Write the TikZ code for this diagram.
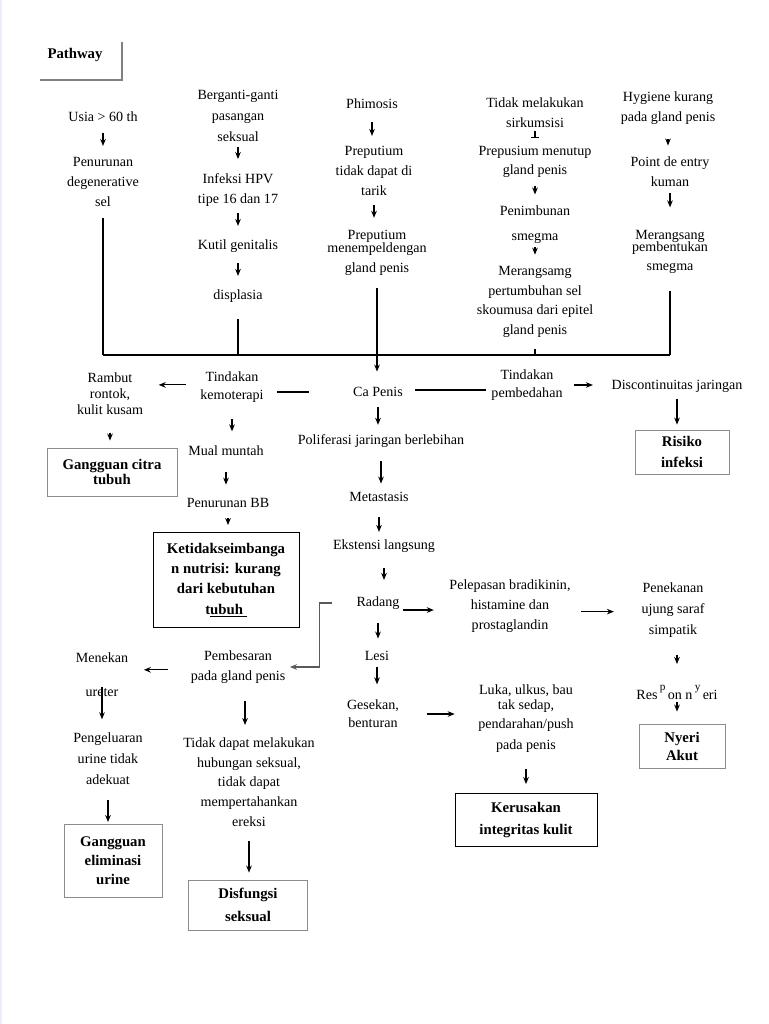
\documentclass[tikz,border=0pt]{standalone}
\usepackage{fontspec}
\setmainfont{Liberation Serif}
\usetikzlibrary{arrows.meta}
\newlength{\unitpx}
\setlength{\unitpx}{0.25mm}
\newcommand{\drawdown}[5][]{
  \draw[arr, #1, shorten <=#4\unitpx, shorten >=#5\unitpx]
    (#2.south) -- (#2.south |- #3.north);
}

\begin{document}
\begin{tikzpicture}[x=\unitpx, y=-\unitpx,
  txt/.style={align=center, inner sep=1pt, font=\fontsize{10}{14}\selectfont},
  box/.style={draw=black!45, line width=0.6pt, align=center, inner sep=1pt,
    font=\bfseries\fontsize{10.5}{14.5}\selectfont},
  arr/.style={line width=0.8pt, -{Stealth[length=5pt, width=4pt]}},
  fat/.style={line width=1.2pt},
  wire/.style={line width=0.8pt}]
  \useasboundingbox (0,0) rectangle (768,1024);
  \fill[blue!7] (0,0) rectangle (2,1024);

  \node[txt, font=\bfseries\fontsize{10.5}{14}\selectfont] (pathway) at (75,55) {Pathway};
  \draw[black!50, line width=1pt] (40,80) -- (122,80) -- (122,42);

  % sebab
  \node[txt] (usia)   at (103,117) {Usia > 60 th};
  \node[txt] (degen)  at (103,182) {Penurunan\\degenerative\\sel};
  \node[txt] (bergan) at (238,116) {Berganti-ganti\\[0.8pt]pasangan\\[0.8pt]seksual};
  \node[txt] (hpv)    at (238,190) {Infeksi HPV\\tipe 16 dan 17};
  \node[txt] (kutil)  at (238,246) {Kutil genitalis};
  \node[txt] (displ)  at (238,296) {displasia};
  \node[txt] (phimo)  at (372,104) {Phimosis};
  \node[txt] (prep1)  at (374,171) {Preputium\\tidak dapat di\\tarik};
  \node[txt] (prep2)  at (377,253) {Preputium\\[-4.8pt]menempeldengan\\gland penis};
  \node[txt] (sirk)   at (535,113) {Tidak melakukan\\sirkumsisi};
  \node[txt] (menut)  at (535,162) {Prepusium menutup\\gland penis};
  \node[txt] (timbun) at (535,225) {Penimbunan\\[3.7pt]smegma};
  \node[txt] (rangs)  at (535,302) {Merangsamg\\pertumbuhan sel\\skoumusa dari epitel\\gland penis};
  \node[txt] (hyg)    at (668,108) {Hygiene kurang\\pada gland penis};
  \node[txt] (entry)  at (670,172) {Point de entry\\kuman};
  \node[txt] (bentuk) at (670,252) {Merangsang\\[-5.5pt]pembentukan\\smegma};
  \coordinate (bus) at (0,355);

  % ca penis dan tindakan
  \node[txt] (capenis) at (378,392) {Ca Penis};
  \node[txt] (kemo)   at (232,387) {Tindakan\\[-1.2pt]kemoterapi};
  \node[txt] (rambut) at (110,394) {Rambut\\[-2.6pt]rontok,\\[-2.6pt]kulit kusam};
  \node[box, minimum width=130\unitpx, minimum height=48\unitpx] (citra) at (112,472) {Gangguan citra\\[-3.5pt]tubuh};
  \node[txt] (mual)   at (226,451) {Mual muntah};
  \node[txt] (bb)     at (228,503) {Penurunan BB};
  \node[box, draw=black, minimum width=146\unitpx, minimum height=95\unitpx] (ketid) at (226,580)
    {Ketidakseimbanga\\n nutrisi: kurang\\dari kebutuhan\\t\underline{ubuh\ }};
  \node[txt] (bedah)  at (527,385) {Tindakan\\[-1.2pt]pembedahan};
  \node[txt] (discon) at (677,386) {Discontinuitas jaringan};
  \node[box, minimum width=94\unitpx, minimum height=44\unitpx] (risiko) at (682,452) {Risiko\\infeksi};

  % jalur tengah
  \node[txt] (polif)  at (381,441) {Poliferasi jaringan berlebihan};
  \node[txt] (meta)   at (379,497) {Metastasis};
  \node[txt] (ekst)   at (384,546) {Ekstensi langsung};
  \node[txt] (radang) at (378,603) {Radang};
  \node[txt] (lesi)   at (377,656) {Lesi};
  \node[txt] (gesek)  at (373,714) {Gesekan,\\[-1.2pt]benturan};
  \node[txt] (pelep)  at (510,606) {Pelepasan bradikinin,\\histamine dan\\prostaglandin};
  \node[txt] (tekan)  at (673,610) {Penekanan\\[0.7pt]ujung saraf\\[0.7pt]simpatik};
  \node[txt] (respon) at (677,692)
    {Res\,\raisebox{6.5pt}{\footnotesize p}\,on n\,\raisebox{6.5pt}{\footnotesize y}\,eri};
  \node[box, minimum width=86\unitpx, minimum height=44\unitpx] (nyeri) at (682,746) {Nyeri\\[-1.7pt]Akut};

  % bawah
  \node[txt] (besar)   at (238,667) {Pembesaran\\pada gland penis};
  \node[txt] (menekan) at (102,675) {Menekan\\[10pt]ureter};
  \node[txt] (keluar)  at (108,759) {Pengeluaran\\[1pt]urine tidak\\[1pt]adekuat};
  \node[box, minimum width=98\unitpx, minimum height=73\unitpx] (elim) at (113,861) {Gangguan\\[-1pt]eliminasi\\[-1pt]urine};
  \node[txt] (tdk)     at (249,782) {Tidak dapat melakukan\\hubungan seksual,\\tidak dapat\\mempertahankan\\ereksi};
  \node[box, minimum width=119\unitpx, minimum height=50\unitpx] (disf) at (248,905) {Disfungsi\\[2pt]seksual};
  \node[txt] (luka)    at (526,719) {Luka, ulkus, bau\\[-4pt]tak sedap,\\pendarahan/push\\[1pt]pada penis};
  \node[box, draw=black, minimum width=142\unitpx, minimum height=53\unitpx] (kerus) at (526,820) {Kerusakan\\[0.5pt]integritas kulit};

  % panah
  \foreach \a/\b/\s/\e in {usia/degen/9/10, bergan/hpv/4/13, hpv/kutil/5/12,
      kutil/displ/9/12, phimo/prep1/11/9, prep1/prep2/8/11, menut/timbun/6/10,
      timbun/rangs/1/10, hyg/entry/13/10, entry/bentuk/5/21}
    {\drawdown{\a}{\b}{\s}{\e}}
  \draw[wire, -{Bar[width=5pt]}, shorten <=2\unitpx, shorten >=6\unitpx]
    (sirk.south) -- (sirk.south |- menut.north);
  \foreach \a/\s in {degen/10, displ/15, rangs/10, bentuk/15}
    {\draw[wire, shorten <=\s\unitpx] (\a.south) -- (\a.south |- bus);}
  \draw[wire] (degen.south |- bus) -- (bentuk.south |- bus);
  \drawdown[fat]{prep2}{capenis}{11}{14}

  \foreach \a/\b/\s/\e in {capenis/polif/9/8, polif/meta/12/7, meta/ekst/14/6,
      ekst/radang/14/15, radang/lesi/12/11, lesi/gesek/5/14}
    {\drawdown[fat]{\a}{\b}{\s}{\e}}

  \foreach \a/\b/\s/\e in {rambut/citra/16/7, kemo/mual/15/13, mual/bb/14/12,
      bb/ketid/9/7, discon/risiko/5/5, respon/nyeri/1/12, keluar/elim/13/2,
      tdk/disf/13/7, luka/kerus/15/9}
    {\drawdown{\a}{\b}{\s}{\e}}
  \drawdown{menekan}{keluar}{-12}{12}
  \draw[arr, shorten <=16\unitpx, shorten >=19\unitpx] (tekan.south -| respon.north) -- (respon.north);
  \draw[arr, shorten <=16\unitpx, shorten >=11\unitpx]
    ([xshift=5pt]besar.south) -- ([xshift=5pt]besar.south |- tdk.north);

  \draw[arr, shorten <=13\unitpx, shorten >=14\unitpx]
    ([yshift=1.5pt]kemo.west) -- ([yshift=1.5pt]kemo.west -| rambut.east);
  \draw[wire, shorten <=43\unitpx, shorten >=12\unitpx] (capenis.west) -- (capenis.west -| kemo.east);
  \draw[wire, shorten <=11\unitpx, shorten >=4\unitpx]
    ([yshift=1.4pt]capenis.east) -- ([yshift=1.4pt]capenis.east -| bedah.west);
  \draw[arr, shorten <=10\unitpx, shorten >=17\unitpx] (bedah.east) -- (bedah.east -| discon.west);
  \draw[arr, shorten <=2\unitpx, shorten >=14\unitpx]
    ([yshift=-5pt]radang.east) -- ([yshift=-5pt]radang.east -| pelep.west);
  \draw[arr, shorten <=9\unitpx, shorten >=26\unitpx]
    ([yshift=-4pt]pelep.east) -- ([yshift=-4pt]pelep.east -| tekan.west);
  \draw[arr, black!65, shorten >=3\unitpx] ([xshift=-16pt]radang.west) -- ++(-13,0) |- (besar.east);
  \draw[arr, shorten <=21\unitpx, shorten >=14\unitpx]
    ([yshift=-2pt]besar.west) -- ([yshift=-2pt]besar.west -| menekan.east);
  \draw[arr, shorten <=26\unitpx, shorten >=22\unitpx] (gesek.east) -- (gesek.east -| luka.west);
\end{tikzpicture}
\end{document}
